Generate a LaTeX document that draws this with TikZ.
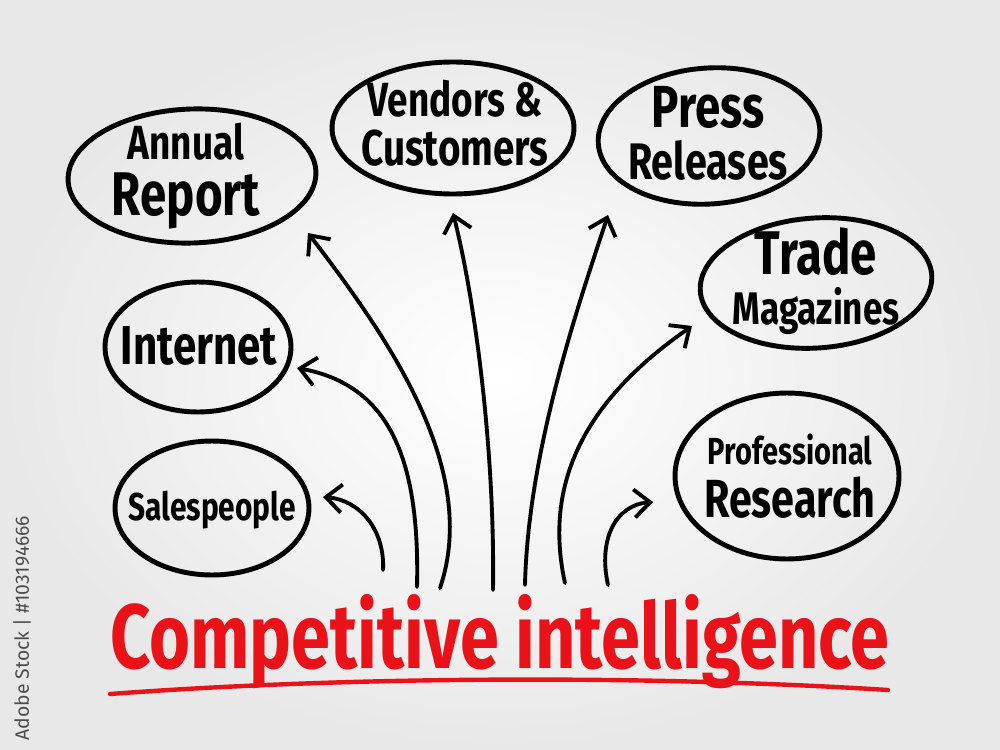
\documentclass[tikz,border=0pt]{standalone}
\usepackage{fontspec}
\usepackage{graphicx}
\setmainfont{Fira Sans}
\usetikzlibrary{shapes.geometric, arrows.meta}
\definecolor{markerred}{RGB}{232,18,24}
% tall, marker-like lettering
\newcommand{\tall}[1]{\scalebox{1}[1.3]{\begin{tabular}{@{}c@{}}#1\end{tabular}}}
\newcommand{\fs}[1]{\fontsize{#1}{#1}\selectfont}

\begin{document}
\begin{tikzpicture}[x=0.02cm, y=-0.02cm,
  bubble/.style={draw, ellipse, line width=2.8pt, inner sep=0pt},
  hand/.style={font=\bfseries, inner sep=0pt, align=center},
  arrowline/.style={line width=2.2pt, line cap=round, -{Straight Barb[length=9pt,width=16pt]}}]

% background
\shade[inner color=white, outer color=black!9] (0,0) rectangle (1000,750);
\useasboundingbox (0,0) rectangle (1000,750);

% bubbles
\node[bubble, minimum width=4.96cm, minimum height=2.68cm, rotate=2] (report) at (192,176) {};
\node[bubble, minimum width=4.84cm, minimum height=2.64cm] (vendors) at (453,128) {};
\node[bubble, minimum width=4.44cm, minimum height=2.72cm, rotate=4] (press) at (709,136) {};
\node[bubble, minimum width=4.64cm, minimum height=2.60cm, rotate=4] (trade) at (816,283) {};
\node[bubble, minimum width=3.72cm, minimum height=2.60cm] (internet) at (198,347) {};
\node[bubble, minimum width=3.88cm, minimum height=2.68cm] (sales) at (212,508) {};
\node[bubble, minimum width=4.48cm, minimum height=3.32cm] (research) at (787,476) {};

% bubble texts
\node[hand] (reportText) at (186,176) {\tall{\fs{21}Annual\\[2pt] \fs{27}Report}};
\node[hand] (vendorsText) at (455,127) {\tall{\fs{21}Vendors \&\\[2pt] \fs{22}Customers}};
\node[hand] (pressText) at (708,137) {\tall{\fs{26}Press\\[2pt] \fs{22.5}Releases}};
\node[hand] (tradeText) at (816,281) {\tall{\fs{27}Trade\\[2pt] \fs{20}Magazines}};
\node[hand] (internetText) at (199,350) {\tall{\fs{24}Internet}};
\node[hand] (salesText) at (212,510) {\tall{\fs{17}Salespeople}};
\node[hand] (researchText) at (790,480) {\tall{\fs{16.5}Professional\\[2pt] \fs{23.5}Research}};

% title
\node[hand, text=markerred] (title) at (500,642) {\tall{\fs{40}Competitive intelligence}};
\draw[markerred, line width=2.5pt, line cap=round] (110,694) .. controls (350,676) and (650,675) .. (888,690);

% arrow ends
\coordinate (s1) at (383,570); \coordinate (e1) at (323,497);
\coordinate (s2) at (417,587); \coordinate (e2) at (297,368);
\coordinate (s3) at (440,588); \coordinate (e3) at (308,233);
\coordinate (s4) at (493,590); \coordinate (e4) at (453,213);
\coordinate (s5) at (525,585); \coordinate (e5) at (608,215);
\coordinate (s6) at (565,583); \coordinate (e6) at (692,326);
\coordinate (s7) at (608,585); \coordinate (e7) at (653,502);

% arrows
\draw[arrowline] (s1) .. controls (385,530) and (360,500) .. (e1);
\draw[arrowline] (s2) .. controls (420,460) and (390,385) .. (e2);
\draw[arrowline] (s3) .. controls (480,470) and (390,340) .. (e3);
\draw[arrowline] (s4) .. controls (495,450) and (475,300) .. (e4);
\draw[arrowline] (s5) .. controls (528,450) and (580,300) .. (e5);
\draw[arrowline] (s6) .. controls (540,470) and (600,390) .. (e6);
\draw[arrowline] (s7) .. controls (598,540) and (615,505) .. (e7);

% side label
\node[rotate=90, text=black!70, font=\fs{11}] (stockid) at (22,628) {Adobe Stock | \#103194666};
\end{tikzpicture}
\end{document}
